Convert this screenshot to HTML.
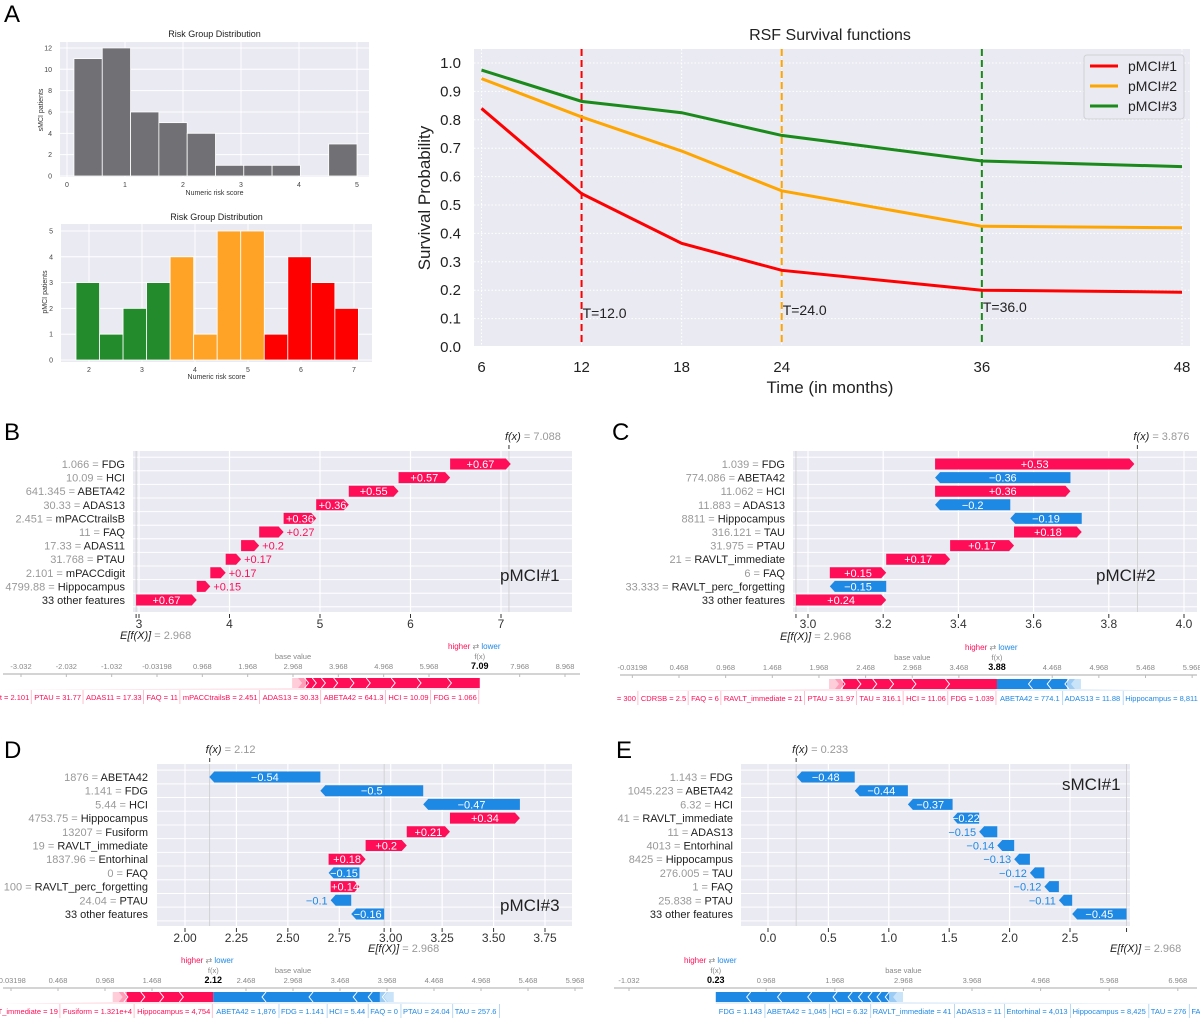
<!DOCTYPE html>
<html><head><meta charset="utf-8">
<style>
body{margin:0;background:#fff;}
svg{display:block;font-family:"Liberation Sans",Arial,sans-serif;}
</style></head>
<body>
<svg id="s" width="1200" height="1023" xmlns="http://www.w3.org/2000/svg"></svg>
<script>
// ---------- DATA ----------
const smciCounts=[11,12,6,5,4,1,1,1,0,3];
const smciBinStart=0.12, smciBinW=0.488;
const smciXTicks=[0,1,2,3,4,5];
const smciYTicks=[0,2,4,6,8,10,12];
const pmciCounts=[3,1,2,3,4,1,5,5,1,4,3,2];
const pmciGroups=['g','g','g','g','o','o','o','o','r','r','r','r'];
const pmciBinStart=1.755, pmciBinW=0.444;
const pmciXTicks=[2,3,4,5,6,7];
const pmciYTicks=[0,1,2,3,4,5];

const survTimes=[6,12,18,24,36,48];
const survP1=[0.84,0.54,0.365,0.27,0.2,0.193];
const survP2=[0.945,0.81,0.69,0.55,0.425,0.42];
const survP3=[0.975,0.865,0.825,0.745,0.655,0.635];
const survXTicks=[6,12,18,24,36,48];
const survYTicks=[0,0.1,0.2,0.3,0.4,0.5,0.6,0.7,0.8,0.9,1.0];
const survMarks=[12,24,36];

const baseValue=2.968;
const bVals=[0.67,0.57,0.55,0.36,0.36,0.27,0.2,0.17,0.17,0.15,0.67];
const bNums=['1.066','10.09','641.345','30.33','2.451','11','17.33','31.768','2.101','4799.88',''];
const bFeat=['FDG','HCI','ABETA42','ADAS13','mPACCtrailsB','FAQ','ADAS11','PTAU','mPACCdigit','Hippocampus','33 other features'];
const bTicks=[3,4,5,6,7];
const bFx=7.088;
const cVals=[0.53,-0.36,0.36,-0.2,-0.19,0.18,0.17,0.17,0.15,-0.15,0.24];
const cNums=['1.039','774.086','11.062','11.883','8811','316.121','31.975','21','6','33.333',''];
const cFeat=['FDG','ABETA42','HCI','ADAS13','Hippocampus','TAU','PTAU','RAVLT_immediate','FAQ','RAVLT_perc_forgetting','33 other features'];
const cTicks=[3.0,3.2,3.4,3.6,3.8,4.0];
const cFx=3.876;
const dVals=[-0.54,-0.5,-0.47,0.34,0.21,0.2,0.18,-0.15,0.14,-0.1,-0.16];
const dNums=['1876','1.141','5.44','4753.75','13207','19','1837.96','0','100','24.04',''];
const dFeat=['ABETA42','FDG','HCI','Hippocampus','Fusiform','RAVLT_immediate','Entorhinal','FAQ','RAVLT_perc_forgetting','PTAU','33 other features'];
const dTicks=[2.0,2.25,2.5,2.75,3.0,3.25,3.5,3.75];
const dFx=2.12;
const eVals=[-0.48,-0.44,-0.37,-0.22,-0.15,-0.14,-0.13,-0.12,-0.12,-0.11,-0.45];
const eNums=['1.143','1045.223','6.32','41','11','4013','8425','276.005','1','25.838',''];
const eFeat=['FDG','ABETA42','HCI','RAVLT_immediate','ADAS13','Entorhinal','Hippocampus','TAU','FAQ','PTAU','33 other features'];
const eTicks=[0.0,0.5,1.0,1.5,2.0,2.5];
const eFx=0.233;

const fbTicks=[-3.032,-2.032,-1.032,-0.03198,0.968,1.968,2.968,3.968,4.968,5.968,7.968,8.968];
const fbRed=['git = 2.101','PTAU = 31.77','ADAS11 = 17.33','FAQ = 11','mPACCtrailsB = 2.451','ADAS13 = 30.33','ABETA42 = 641.3','HCI = 10.09','FDG = 1.066'];
const fbBlue=[];
const fcTicks=[-0.03198,0.468,0.968,1.468,1.968,2.468,2.968,3.468,4.468,4.968,5.468,5.968];
const fcRed=['= 300','CDRSB = 2.5','FAQ = 6','RAVLT_immediate = 21','PTAU = 31.97','TAU = 316.1','HCI = 11.06','FDG = 1.039'];
const fcBlue=['ABETA42 = 774.1','ADAS13 = 11.88','Hippocampus = 8,811','F'];
const fdTicks=[-0.03198,0.468,0.968,1.468,2.468,2.968,3.468,3.968,4.468,4.968,5.468,5.968];
const fdRed=['T_immediate = 19','Fusiform = 1.321e+4','Hippocampus = 4,754'];
const fdBlue=['ABETA42 = 1,876','FDG = 1.141','HCI = 5.44','FAQ = 0','PTAU = 24.04','TAU = 257.6'];
const feTicks=[-1.032,0.968,1.968,2.968,3.968,4.968,5.968,6.968];
const feRed=[];
const feBlue=['FDG = 1.143','ABETA42 = 1,045','HCI = 6.32','RAVLT_immediate = 41','ADAS13 = 11','Entorhinal = 4,013','Hippocampus = 8,425','TAU = 276','FAC'];

// ---------- HELPERS ----------
const S=document.getElementById('s');
const NS='http://www.w3.org/2000/svg';
function mk(tag,attrs,parent){const e=document.createElementNS(NS,tag);for(const k in attrs)e.setAttribute(k,attrs[k]);(parent||S).appendChild(e);return e;}
function txt(x,y,s,attrs,parent){const t=mk('text',Object.assign({x:x,y:y},attrs||{}),parent);t.textContent=s;return t;}
const RED='#ff0d57', BLUE='#1e88e5';

[['A',4,22],['B',4,440],['C',612,440],['D',4,758],['E',616,758]].forEach(function(p){
  const t=txt(p[1],p[2],p[0],{'font-size':24,fill:'#000'});
  
  
});

// ---------- HISTOGRAMS ----------
function hist(o){
  const g=mk('g',{});
  
  
  mk('rect',{x:o.px0,y:o.py0,width:o.px1-o.px0,height:o.py1-o.py0,fill:'#eaeaf2'},g);
  const X=v=>o.xa+o.xb*(v-o.xv0), Y=c=>o.ya-o.yb*c;
  o.yTicks.forEach(function(c){
    mk('line',{x1:o.px0,x2:o.px1,y1:Y(c),y2:Y(c),stroke:'#fff','stroke-width':1},g);
    const t=txt(o.px0-8,Y(c)+2.5,String(c),{'font-size':7,fill:'#444','text-anchor':'end'},g);
    
    
  });
  o.xTicks.forEach(function(v){
    mk('line',{x1:X(v),x2:X(v),y1:o.py0,y2:o.py1,stroke:'#fff','stroke-width':1},g);
    const t=txt(X(v),o.py1+10,String(v),{'font-size':7,fill:'#444','text-anchor':'middle'},g);
    
    
  });
  o.counts.forEach(function(c,i){
    const x0=X(o.bs+i*o.bw), x1=X(o.bs+(i+1)*o.bw);
    if(c<=0) return;
    const r=mk('rect',{x:x0,y:Y(c),width:x1-x0,height:Y(0)-Y(c),fill:o.color(i),stroke:'#fff','stroke-width':0.8},g);
    
    
  });
  const ti=txt((o.px0+o.px1)/2,o.titleY,'Risk Group Distribution',{'font-size':9,fill:'#222','text-anchor':'middle'},g);
  
  
  const xl=txt((o.px0+o.px1)/2,o.xlY,'Numeric risk score',{'font-size':7,fill:'#333','text-anchor':'middle'},g);
  
  
  const yl=txt(0,0,o.ylabel,{'font-size':7,fill:'#333','text-anchor':'middle',transform:'translate('+o.ylX+','+o.ylY+') rotate(-90)'},g);
  
  
}
hist({name:'smci-histogram',px0:60,px1:369,py0:42,py1:177,xa:67,xb:58,xv0:0,ya:176,yb:10.67,
  counts:smciCounts,bs:smciBinStart,bw:smciBinW,xTicks:smciXTicks,yTicks:smciYTicks,color:()=>'#717075',
  titleY:37,xlY:195,ylabel:'sMCI patients',ylX:43,ylY:110});
const gc={g:'#238b2b',o:'#ffa326',r:'#ff0000'};
hist({name:'pmci-histogram',px0:61,px1:372,py0:224,py1:362,xa:89,xb:53,xv0:2,ya:360,yb:25.8,
  counts:pmciCounts,bs:pmciBinStart,bw:pmciBinW,xTicks:pmciXTicks,yTicks:pmciYTicks,color:i=>gc[pmciGroups[i]],
  titleY:220,xlY:379,ylabel:'pMCI patients',ylX:47,ylY:292});

// ---------- SURVIVAL ----------
(function(){
  const g=mk('g',{});
  
  
  const X=t=>481.5+(t-6)*(1182-481.5)/42, Y=p=>347-284*p;
  mk('rect',{x:474,y:49,width:716,height:297,fill:'#eaeaf2'},g);
  survYTicks.forEach(function(p){
    mk('line',{x1:474,x2:1190,y1:Y(p),y2:Y(p),stroke:'#fff','stroke-width':1,'stroke-dasharray':'1.5,2'},g);
    const t=txt(461,Y(p)+5,p.toFixed(1),{'font-size':15,fill:'#222','text-anchor':'end'},g);
    
    
  });
  survXTicks.forEach(function(v){
    mk('line',{x1:X(v),x2:X(v),y1:49,y2:346,stroke:'#fff','stroke-width':1,'stroke-dasharray':'1.5,2'},g);
    const t=txt(X(v),372,String(v),{'font-size':15,fill:'#222','text-anchor':'middle'},g);
    
    
  });
  const mc=['#ff0000','#ffa500','#1a8a1a'];
  survMarks.forEach(function(m,i){
    const l=mk('line',{x1:X(m),x2:X(m),y1:49,y2:346,stroke:mc[i],'stroke-width':2,'stroke-dasharray':'7,4'},g);
    
    
  });
  const series=[[survP1,'#ff0000','pMCI#1'],[survP2,'#ffa500','pMCI#2'],[survP3,'#1a8a1a','pMCI#3']];
  series.forEach(function(s,k){
    const pts=survTimes.map((t,i)=>X(t)+','+Y(s[0][i])).join(' ');
    const pl=mk('polyline',{points:pts,fill:'none',stroke:s[1],'stroke-width':3},g);
    
    
  });
  survMarks.forEach(function(m,i){
    const t=txt(X(m)+1,Y([0.12,0.13,0.14][i])+5,'T='+m.toFixed(1),{'font-size':14,fill:'#222'},g);
    
    
  });
  const lg=mk('g',{},g);
  
  
  mk('rect',{x:1084,y:55,width:100,height:64,fill:'#eaeaf2',stroke:'#d0d0d6',rx:3},lg);
  series.forEach(function(s,k){
    const y=66+k*20;
    mk('line',{x1:1090,x2:1118,y1:y,y2:y,stroke:s[1],'stroke-width':3},lg);
    const t=txt(1128,y+5,s[2],{'font-size':14,fill:'#222'},lg);
    
    
  });
  const ti=txt(830,40,'RSF Survival functions',{'font-size':16,fill:'#222','text-anchor':'middle'},g);
  
  
  const xl=txt(830,393,'Time (in months)',{'font-size':17,fill:'#222','text-anchor':'middle'},g);
  
  
  const yl=txt(0,0,'Survival Probability',{'font-size':17,fill:'#222','text-anchor':'middle',transform:'translate(430,198) rotate(-90)'},g);
  
  
})();

// ---------- WATERFALLS ----------
function waterfall(o){
  const g=mk('g',{});
  
  
  const X=v=>o.t0x+(v-o.t0)*o.ppu;
  mk('rect',{x:o.px0,y:o.py0,width:o.px1-o.px0,height:o.py1-o.py0,fill:'#eaeaf2'},g);
  const n=o.vals.length;
  for(let i=0;i<=n;i++){const y=o.r0+(i-0.5)*o.rs;mk('line',{x1:o.px0,x2:o.px1,y1:y,y2:y,stroke:'#fff','stroke-width':1},g);}
  o.ticks.forEach(function(v){
    mk('line',{x1:X(v),x2:X(v),y1:o.py0,y2:o.py1,stroke:'#fff','stroke-width':1.2},g);
    mk('line',{x1:X(v),x2:X(v),y1:o.py1+2,y2:o.py1+6,stroke:'#333','stroke-width':1},g);
    const t=txt(X(v),o.py1+16,o.fmt(v),{'font-size':12,fill:'#333','text-anchor':'middle'},g);
    
    
  });
  mk('line',{x1:X(baseValue),x2:X(baseValue),y1:o.py0,y2:o.py1,stroke:'#ccc','stroke-width':0.8},g);
  mk('line',{x1:X(baseValue),x2:X(baseValue),y1:o.py1+2,y2:o.py1+6,stroke:'#333'},g);
  mk('line',{x1:X(o.fx),x2:X(o.fx),y1:o.py0,y2:o.py1,stroke:'#ccc','stroke-width':0.8},g);
  mk('line',{x1:X(o.fx),x2:X(o.fx),y1:o.py0-6,y2:o.py0-2,stroke:'#333'},g);
  let cur=baseValue; const starts=new Array(n);
  for(let i=n-1;i>=0;i--){starts[i]=cur;cur+=o.vals[i];}
  const h=11;
  for(let i=0;i<n;i++){
    const v=o.vals[i], y=o.r0+i*o.rs, xs=X(starts[i]), xe=X(starts[i]+v);
    const dir=v>=0?1:-1, tip=Math.min(5,Math.abs(xe-xs));
    const pts=[[xs,y-h/2],[xe-dir*tip,y-h/2],[xe,y],[xe-dir*tip,y+h/2],[xs,y+h/2]];
    const p=mk('polygon',{points:pts.map(q=>q.join(',')).join(' '),fill:v>=0?RED:BLUE},g);
    
    
    const s=(v>=0?'+':'\u2212')+String(Math.abs(v));
    const w=Math.abs(xe-xs);
    let t;
    if(s.length*5.4-1<=w){
      t=txt((xs+xe)/2,y+4,s,{'font-size':11,fill:'#fff','text-anchor':'middle'},g);
    }else if(v>=0){
      t=txt(Math.max(xs,xe)+3,y+4,s,{'font-size':11,fill:RED},g);
    }else{
      t=txt(Math.min(xs,xe)-3,y+4,s,{'font-size':11,fill:BLUE,'text-anchor':'end'},g);
    }
    
    
    const lt=mk('text',{x:o.lx,y:y+4,'font-size':11,'text-anchor':'end',fill:'#222'},g);
    if(o.nums[i]){const a=mk('tspan',{fill:'#999'},lt);a.textContent=o.nums[i]+' = ';}
    const b=mk('tspan',{},lt);b.textContent=o.feat[i];
    
    
  }
  const fl=mk('text',{x:X(o.fx)-4,y:o.py0-11,'font-size':11,fill:'#999'},g);
  const f1=mk('tspan',{fill:'#222','font-style':'italic'},fl);f1.textContent='f(x)';
  const f2=mk('tspan',{},fl);f2.textContent=' = '+o.fx;
  
  
  const el=mk('text',{x:o.ex,y:o.ey,'font-size':11,fill:'#999'},g);
  const e1=mk('tspan',{fill:'#222','font-style':'italic'},el);e1.textContent='E[f(X)]';
  const e2=mk('tspan',{},el);e2.textContent=' = '+baseValue;
  
  
  const tag=txt(o.tagX,o.tagY,o.tag,{'font-size':17,fill:'#222'},g);
  
  
}
const f1=v=>String(v), f1d=v=>v.toFixed(1), f2d=v=>v.toFixed(2);
waterfall({name:'waterfall-pmci1',px0:133,px1:572,py0:451,py1:612,t0:3,t0x:139,ppu:(501-139)/4,r0:464,rs:13.6,lx:125,
  vals:bVals,nums:bNums,feat:bFeat,ticks:bTicks,fmt:f1,fx:bFx,ex:120,ey:639,tag:'pMCI#1',tagX:500,tagY:581});
waterfall({name:'waterfall-pmci2',px0:793,px1:1197,py0:451,py1:612,t0:3,t0x:808,ppu:376,r0:464,rs:13.6,lx:785,
  vals:cVals,nums:cNums,feat:cFeat,ticks:cTicks,fmt:f1d,fx:cFx,ex:780,ey:640,tag:'pMCI#2',tagX:1096,tagY:581});
waterfall({name:'waterfall-pmci3',px0:157,px1:572,py0:764,py1:926,t0:2,t0x:185,ppu:(545-185)/1.75,r0:777,rs:13.7,lx:148,
  vals:dVals,nums:dNums,feat:dFeat,ticks:dTicks,fmt:f2d,fx:dFx,ex:368,ey:952,tag:'pMCI#3',tagX:500,tagY:911});
waterfall({name:'waterfall-smci1',px0:741,px1:1130,py0:764,py1:926,t0:0,t0x:768,ppu:(1070-768)/2.5,r0:777,rs:13.7,lx:733,
  vals:eVals,nums:eNums,feat:eFeat,ticks:eTicks,fmt:f1d,fx:eFx,ex:1110,ey:952,tag:'sMCI#1',tagX:1062,tagY:790});

// ---------- FORCE PLOTS ----------
function force(o){
  const g=mk('g',{});
  
  
  const X=v=>o.ax+(v-o.av)*o.ppu;
  mk('line',{x1:o.x0,x2:o.x1,y1:o.axY,y2:o.axY,stroke:'#bbb','stroke-width':1.2},g);
  o.ticks.forEach(function(v){
    mk('line',{x1:X(v),x2:X(v),y1:o.axY,y2:o.axY+3,stroke:'#bbb'},g);
    const t=txt(X(v),o.axY-5,String(v),{'font-size':7.5,fill:'#888','text-anchor':'middle'},g);
    
    
  });
  const pos=o.vals.filter(v=>v>0).sort((a,b)=>b-a), neg=o.vals.filter(v=>v<0).map(v=>-v).sort((a,b)=>b-a);
  const fx=X(o.fx), by0=o.axY+4, by1=o.axY+14, bm=(by0+by1)/2;
  let rs=fx; pos.forEach(v=>rs-=v*o.ppu); let be=fx; neg.forEach(v=>be+=v*o.ppu);
  if(pos.length){
    const r=mk('polygon',{points:[rs+6,by0,fx,by0,fx,by1,rs+6,by1,rs+10,bm].join(' '),fill:RED},g);
    
    
    mk('rect',{x:rs,y:by0,width:14,height:by1-by0,fill:'#ffc0d0',opacity:0.8},g);
    let x=fx; pos.forEach(function(v){x-=v*o.ppu;if(x>rs+8)mk('polyline',{points:(x-2)+','+by0+' '+(x+2)+','+bm+' '+(x-2)+','+by1,fill:'none',stroke:'#fff','stroke-width':1},g);});
  }
  if(neg.length){
    const b=mk('polygon',{points:[fx,by0,be-6,by0,be-10,bm,be-6,by1,fx,by1].join(' '),fill:BLUE},g);
    
    
    mk('rect',{x:be-14,y:by0,width:14,height:by1-by0,fill:'#bcdcf7',opacity:0.8},g);
    let x=fx; neg.forEach(function(v){x+=v*o.ppu;if(x<be-8)mk('polyline',{points:(x+2)+','+by0+' '+(x-2)+','+bm+' '+(x+2)+','+by1,fill:'none',stroke:'#fff','stroke-width':1},g);});
  }
  const ly=o.axY+26;
  let x=fx-1;
  for(let i=o.red.length-1;i>=0;i--){
    const t=txt(x-2,ly,o.red[i],{'font-size':7.5,fill:RED,'text-anchor':'end'},g);
    
    
    const w=t.getComputedTextLength();
    mk('line',{x1:x,x2:x,y1:ly-10,y2:ly+4,stroke:'#ffb0c5','stroke-width':0.8},g);
    x-=w+5;
  }
  if(o.red.length){mk('polygon',{points:[rs,by1,fx,by1,fx,ly-10,Math.max(o.x0,x),ly-10].join(' '),fill:'#ffd0dc',opacity:0.55},g);}
  x=fx+1;
  for(let i=0;i<o.blue.length;i++){
    const t=txt(x+2,ly,o.blue[i],{'font-size':7.5,fill:BLUE},g);
    
    
    const w=t.getComputedTextLength();
    x+=w+5;
    mk('line',{x1:x,x2:x,y1:ly-10,y2:ly+4,stroke:'#a8cff2','stroke-width':0.8},g);
  }
  if(o.blue.length){mk('polygon',{points:[fx,by1,be,by1,Math.min(o.x1,x),ly-10,fx,ly-10].join(' '),fill:'#cfe4f8',opacity:0.55},g);}
  const fv=txt(fx,o.axY-5,o.fx.toFixed(2),{'font-size':9,'font-weight':'bold',fill:'#000','text-anchor':'middle'},g);
  
  
  txt(fx,o.axY-15,'f(x)',{'font-size':7.5,fill:'#888','text-anchor':'middle'},g);
  const bl=txt(X(baseValue),o.axY-15,'base value',{'font-size':7.5,fill:'#888','text-anchor':'middle'},g);
  
  
  const hl=mk('text',{x:o.hx,y:o.axY-25,'font-size':8},g);
  const h1=mk('tspan',{fill:RED},hl);h1.textContent='higher ';
  const h2=mk('tspan',{fill:'#888'},hl);h2.textContent='\u21c4';
  const h3=mk('tspan',{fill:BLUE},hl);h3.textContent=' lower';
  
  
}
force({name:'force-plot-pmci1',x0:3,x1:580,ax:21,av:-3.032,ppu:(565-21)/12,axY:674,ticks:fbTicks,vals:bVals,fx:bFx,red:fbRed,blue:fbBlue,hx:448});
force({name:'force-plot-pmci2',x0:620,x1:1197,ax:679,av:0.468,ppu:93.3,axY:675,ticks:fcTicks,vals:cVals,fx:cFx,red:fcRed,blue:fcBlue,hx:965});
force({name:'force-plot-pmci3',x0:3,x1:583,ax:58,av:0.468,ppu:94,axY:988,ticks:fdTicks,vals:dVals,fx:dFx,red:fdRed,blue:fdBlue,hx:181});
force({name:'force-plot-smci1',x0:614,x1:1197,ax:629,av:-1.032,ppu:68.6,axY:988,ticks:feTicks,vals:eVals,fx:eFx,red:feRed,blue:feBlue,hx:684});
</script>
</body></html>
